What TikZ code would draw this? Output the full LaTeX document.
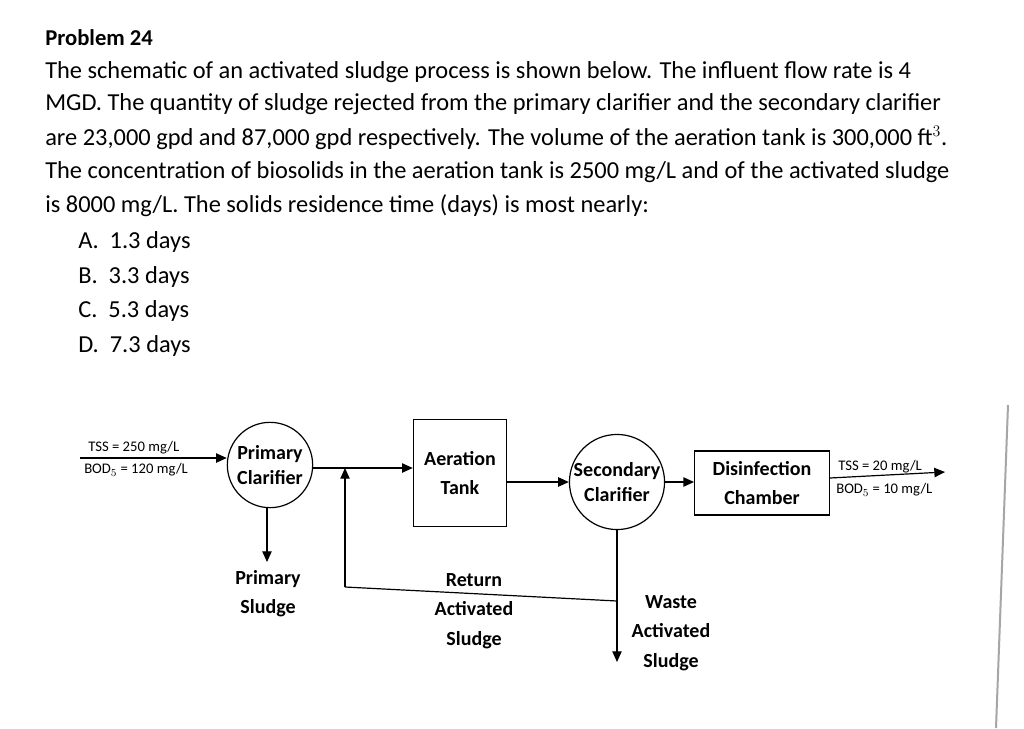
\documentclass[tikz,border=0pt]{standalone}
\usepackage{fontspec}
\setmainfont{Carlito}
\usetikzlibrary{arrows.meta}
\begin{document}
\begin{tikzpicture}[x=0.75pt,y=-0.75pt,
  body/.style={anchor=west,inner sep=0,font=\fontsize{18.3}{20}\selectfont},
  lbl/.style={inner sep=0,font=\fontsize{15}{16}\selectfont\bfseries,align=center},
  small/.style={inner sep=0,font=\fontsize{11}{12}\selectfont,anchor=west},
  ln/.style={line width=0.9pt},
  arr/.style={ln,-{Triangle[length=8pt,width=7pt]}}]
\useasboundingbox (0,0) rectangle (1024,728);
\fill[white] (0,0) rectangle (1024,728);
\node[body,font=\fontsize{17}{18}\selectfont\bfseries] (t0) at (45,38) {Problem 24};
\node[body] (t1) at (45,72) {The schematic of an activated sludge process is shown below. The influent flow rate is 4};
\node[body] (t2) at (45,104) {MGD. The quantity of sludge rejected from the primary clarifier and the secondary clarifier};
\node[body] (t3) at (45,138) {are 23,000 gpd and 87,000 gpd respectively. The volume of the aeration tank is 300,000 ft$^3$.};
\node[body] (t4) at (45,172) {The concentration of biosolids in the aeration tank is 2500 mg/L and of the activated sludge};
\node[body] (t5) at (45,206) {is 8000 mg/L. The solids residence time (days) is most nearly:};
\node[body] (a) at (78,242) {A.\ \ 1.3 days};
\node[body] (b) at (78,277) {B.\ \ 3.3 days};
\node[body] (c) at (78,311) {C.\ \ 5.3 days};
\node[body] (d) at (78,346) {D.\ \ 7.3 days};
% diagram
\node[draw,ln,circle,minimum size=64pt,lbl] (pc) at (270,465) {Primary\\[3pt]Clarifier};
\node[draw,ln,minimum width=70pt,minimum height=80pt,lbl] (at) at (460,473) {Aeration\\[6pt]Tank};
\node[draw,ln,circle,minimum size=67pt,lbl] (sc) at (617,482) {Secondary\\[3pt]Clarifier};
\node[draw,ln,minimum width=101pt,minimum height=48pt,lbl] (dc) at (762,483) {Disinfection\\[6pt]Chamber};
\coordinate (in) at (80,458);
\coordinate (out) at (945,472);
\coordinate (j1) at (345,468);
\coordinate (c1) at (345,587);
\coordinate (c2) at (617,601);
\coordinate (ps) at (267,562);
\coordinate (was) at (617,662);
\draw[arr] (in) -- (pc.west|-in);
\draw[arr] (dc.east|-out) ++(0,6) -- (out);
\draw[arr] (pc.east|-j1) -- (at.west|-j1);
\draw[arr] (c1) -- (j1);
\draw[ln] (c1) -- (c2);
\draw[arr] (sc.south) -- (was);
\draw[arr] (pc.south-|ps) -- (ps);
\draw[arr] (at.east|-sc) -- (sc.west);
\draw[arr] (sc.east) -- (dc.west|-sc);
\node[small] (l1) at (88,448) {TSS = 250 mg/L};
\node[small] (l2) at (84,470) {BOD$_5$ = 120 mg/L};
\node[small] (l3) at (838,467) {TSS = 20 mg/L};
\node[small] (l4) at (836,490) {BOD$_5$ = 10 mg/L};
\node[lbl] (psl) at (268,594) {Primary\\[6pt]Sludge};
\node[lbl] (ras) at (474,611) {Return\\[6pt]Activated\\[6pt]Sludge};
\node[lbl] (wasl) at (671,633) {Waste\\[6pt]Activated\\[6pt]Sludge};
\draw[gray!70,line width=1.5pt] (1008,405) -- (996,728);
\end{tikzpicture}
\end{document}
